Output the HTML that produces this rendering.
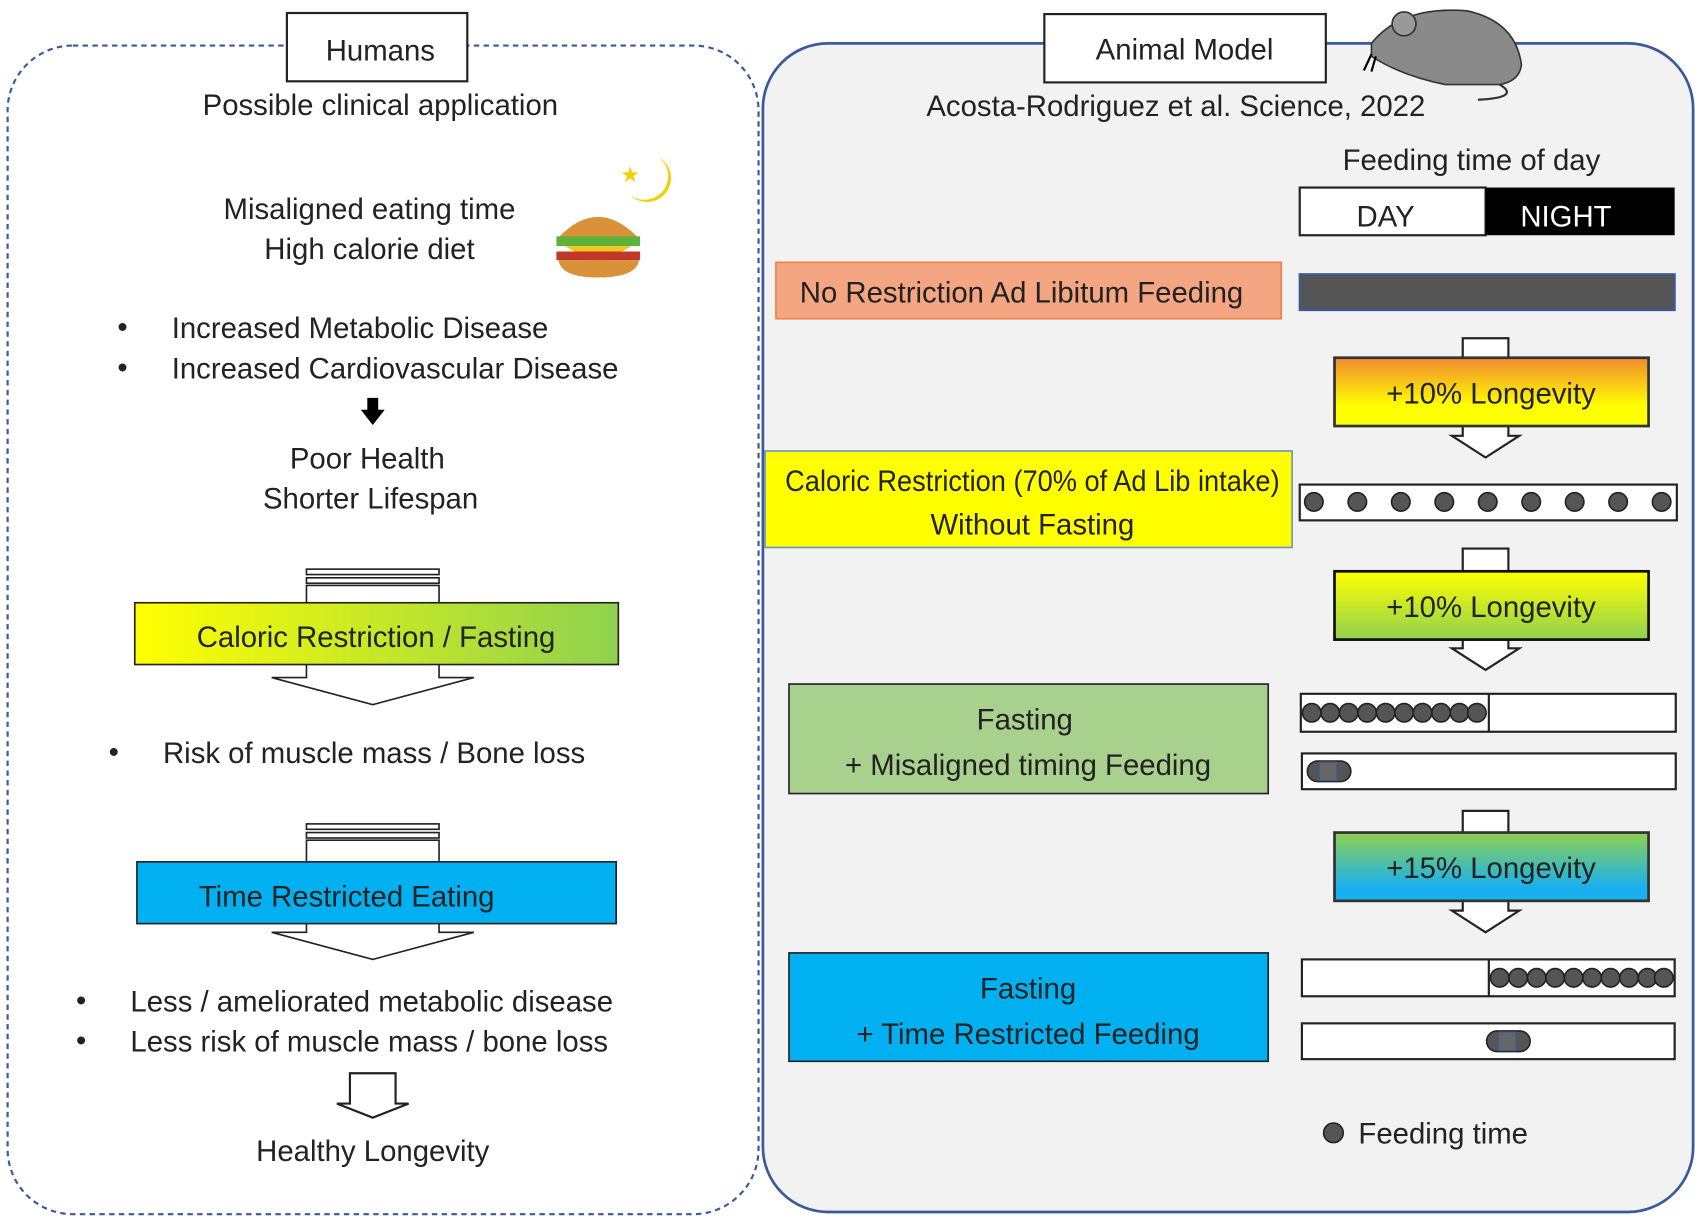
<!DOCTYPE html>
<html><head><meta charset="utf-8"><style>
html,body{margin:0;padding:0;background:#fff;}
svg{display:block;}
text{font-family:"Liberation Sans",sans-serif;font-size:27px;fill:#222;}
</style></head><body>
<svg width="1704" height="1225" viewBox="0 0 1568 1130" preserveAspectRatio="none" xmlns="http://www.w3.org/2000/svg">
<defs>
<linearGradient id="gcr" x1="0" x2="1"><stop offset="0" stop-color="#ffff00"/><stop offset="1" stop-color="#8fd14f"/></linearGradient>
<linearGradient id="g1" x1="0" y1="0" x2="0" y2="1"><stop offset="0" stop-color="#f08a30"/><stop offset="0.7" stop-color="#ffff00"/></linearGradient>
<linearGradient id="g2" x1="0" y1="0" x2="0" y2="1"><stop offset="0" stop-color="#ffff00"/><stop offset="1" stop-color="#8fd14f"/></linearGradient>
<linearGradient id="g3" x1="0" y1="0" x2="0" y2="1"><stop offset="0" stop-color="#8fd14f"/><stop offset="0.8" stop-color="#1ab0ee"/></linearGradient>
</defs>
<rect width="1568" height="1130" fill="#fff"/>
<rect x="7" y="42" width="691" height="1078" rx="60" fill="#fff" stroke="#3a5a9a" stroke-width="2" stroke-dasharray="5,4"/>
<rect x="264" y="12" width="166" height="63" fill="#fff" stroke="#222" stroke-width="2"/>
<text x="350" y="56" text-anchor="middle">Humans</text>
<text x="350" y="106" text-anchor="middle">Possible clinical application</text>
<text x="340" y="202" text-anchor="middle">Misaligned eating time</text>
<text x="340" y="239" text-anchor="middle">High calorie diet</text>
<path d="M513,220 Q550,180 588,220 Z" fill="#d9923a"/>
<rect x="512" y="218" width="77" height="9" fill="#5db33a"/>
<polygon points="520,227 581,227 550,245" fill="#f2c61c"/>
<rect x="512" y="232" width="77" height="8" fill="#c0392b"/>
<path d="M514,240 L588,240 Q586,256 550,256 Q516,256 514,240 Z" fill="#d9923a"/>
<path d="M606,145 A22,22 0 1 1 580,180 A18,18 0 0 0 606,145 Z" fill="#f5d000"/>
<text x="571" y="168" style="font-size:20px;fill:#f5d000">★</text>
<text x="108" y="311">•</text><text x="158" y="312">Increased Metabolic Disease</text>
<text x="108" y="348">•</text><text x="158" y="349">Increased Cardiovascular Disease</text>
<polygon points="338,367 348,367 348,378 354,378 343,392 332,378 338,378" fill="#000"/>
<text x="338" y="432" text-anchor="middle">Poor Health</text>
<text x="341" y="469" text-anchor="middle">Shorter Lifespan</text>
<g fill="#fff" stroke="#222" stroke-width="1.5">
<rect x="282" y="525" width="122" height="5"/><rect x="282" y="533" width="122" height="5"/>
<polygon points="282,540 404,540 404,625 436,625 343,650 250,625 282,625"/>
</g>
<rect x="124" y="556" width="445" height="57" fill="url(#gcr)" stroke="#222" stroke-width="1.5"/>
<text x="346" y="597" text-anchor="middle">Caloric Restriction / Fasting</text>
<text x="100" y="703">•</text><text x="150" y="704">Risk of muscle mass / Bone loss</text>
<g fill="#fff" stroke="#222" stroke-width="1.5">
<rect x="282" y="760" width="122" height="5"/><rect x="282" y="768" width="122" height="5"/>
<polygon points="282,775 404,775 404,860 436,860 343,885 250,860 282,860"/>
</g>
<rect x="126" y="795" width="441" height="57" fill="#00b0f0" stroke="#222" stroke-width="1.5"/>
<text x="319" y="836" text-anchor="middle">Time Restricted Eating</text>
<text x="70" y="932">•</text><text x="120" y="933">Less / ameliorated metabolic disease</text>
<text x="70" y="969">•</text><text x="120" y="970">Less risk of muscle mass / bone  loss</text>
<polygon points="322,990 364,990 364,1018 376,1018 343,1031 310,1018 322,1018" fill="#fff" stroke="#222" stroke-width="2"/>
<text x="343" y="1071" text-anchor="middle">Healthy Longevity</text>
<rect x="702" y="40" width="856" height="1078" rx="60" fill="#f2f2f2" stroke="#3a5a9a" stroke-width="2.5"/>
<rect x="961" y="13" width="259" height="63" fill="#fff" stroke="#222" stroke-width="2"/>
<text x="1090" y="55" text-anchor="middle">Animal Model</text>
<g>
<path d="M1262,40 Q1290,5 1350,10 Q1395,20 1400,60 Q1398,75 1380,78 L1330,78 Q1290,70 1262,52 Z" fill="#8a8a8a" stroke="#333" stroke-width="1.5"/>
<circle cx="1292" cy="22" r="11" fill="#999" stroke="#333" stroke-width="1.5"/>
<path d="M1380,78 Q1400,90 1360,92" fill="none" stroke="#333" stroke-width="2"/>
<path d="M1262,50 L1255,65 M1266,52 L1262,66" stroke="#000" stroke-width="2"/>
</g>
<text x="1082" y="107" text-anchor="middle">Acosta-Rodriguez et al. Science, 2022</text>
<text x="1354" y="157" text-anchor="middle">Feeding time of day</text>
<rect x="1196" y="173" width="171" height="44" fill="#fff" stroke="#222" stroke-width="2"/>
<rect x="1367" y="173" width="174" height="44" fill="#000"/>
<text x="1275" y="209" text-anchor="middle">DAY</text>
<text x="1441" y="209" text-anchor="middle" style="fill:#fff">NIGHT</text>
<rect x="714" y="242" width="465" height="52" fill="#f4a582" stroke="#f08040" stroke-width="1.5"/>
<text x="940" y="279" text-anchor="middle">No Restriction Ad Libitum Feeding</text>
<rect x="1196" y="253" width="345" height="33" fill="#555" stroke="#3a5a9a" stroke-width="2"/>
<g fill="#fff" stroke="#222" stroke-width="2">
<polygon points="1346,312 1388,312 1388,402 1398,402 1367,422 1336,402 1346,402"/>
<polygon points="1346,506 1388,506 1388,598 1398,598 1367,618 1336,598 1346,598"/>
<polygon points="1346,748 1388,748 1388,840 1398,840 1367,860 1336,840 1346,840"/>
</g>
<rect x="1228" y="330" width="289" height="63" fill="url(#g1)" stroke="#333" stroke-width="2.5"/>
<text x="1372" y="372" text-anchor="middle">+10% Longevity</text>
<rect x="704" y="416" width="485" height="89" fill="#ffff00" stroke="#7090c0" stroke-width="1.5"/>
<text x="950" y="453" text-anchor="middle" textLength="455" lengthAdjust="spacingAndGlyphs">Caloric Restriction (70% of Ad Lib intake)</text>
<text x="950" y="493" text-anchor="middle">Without Fasting</text>
<rect x="1196" y="447" width="347" height="33" fill="#fff" stroke="#222" stroke-width="2"/>
<g fill="#555" stroke="#222" stroke-width="1.5">
<circle cx="1209" cy="463" r="8.5"/><circle cx="1249" cy="463" r="8.5"/><circle cx="1289" cy="463" r="8.5"/><circle cx="1329" cy="463" r="8.5"/><circle cx="1369" cy="463" r="8.5"/><circle cx="1409" cy="463" r="8.5"/><circle cx="1449" cy="463" r="8.5"/><circle cx="1489" cy="463" r="8.5"/><circle cx="1529" cy="463" r="8.5"/>
</g>
<rect x="1228" y="527" width="289" height="63" fill="url(#g2)" stroke="#111" stroke-width="2.5"/>
<text x="1372" y="569" text-anchor="middle">+10% Longevity</text>
<rect x="726" y="631" width="441" height="101" fill="#a9d18e" stroke="#222" stroke-width="1.5"/>
<text x="943" y="673" text-anchor="middle">Fasting</text>
<text x="946" y="715" text-anchor="middle">+ Misaligned timing Feeding</text>
<rect x="1197" y="640" width="345" height="35" fill="#fff" stroke="#222" stroke-width="2"/>
<line x1="1370" y1="640" x2="1370" y2="675" stroke="#222" stroke-width="2"/>
<g fill="#555" stroke="#222" stroke-width="1.5">
<circle cx="1207" cy="657.5" r="8.5"/><circle cx="1224" cy="657.5" r="8.5"/><circle cx="1241" cy="657.5" r="8.5"/><circle cx="1258" cy="657.5" r="8.5"/><circle cx="1275" cy="657.5" r="8.5"/><circle cx="1292" cy="657.5" r="8.5"/><circle cx="1309" cy="657.5" r="8.5"/><circle cx="1326" cy="657.5" r="8.5"/><circle cx="1343" cy="657.5" r="8.5"/><circle cx="1359" cy="657.5" r="8.5"/>
</g>
<rect x="1198" y="695" width="344" height="33" fill="#fff" stroke="#222" stroke-width="2"/>
<rect x="1203" y="702" width="40" height="19" rx="9.5" fill="#555" stroke="#222" stroke-width="1.5"/>
<rect x="1214" y="703" width="16" height="17" fill="#666" stroke="#3a5a9a" stroke-width="1.2"/>
<rect x="1228" y="768" width="289" height="63" fill="url(#g3)" stroke="#333" stroke-width="2.5"/>
<text x="1372" y="810" text-anchor="middle">+15% Longevity</text>
<rect x="726" y="879" width="441" height="100" fill="#00b0f0" stroke="#222" stroke-width="1.5"/>
<text x="946" y="921" text-anchor="middle">Fasting</text>
<text x="946" y="963" text-anchor="middle">+ Time Restricted Feeding</text>
<rect x="1198" y="885" width="343" height="34" fill="#fff" stroke="#222" stroke-width="2"/>
<line x1="1370" y1="885" x2="1370" y2="919" stroke="#222" stroke-width="2"/>
<g fill="#555" stroke="#222" stroke-width="1.5">
<circle cx="1380" cy="902" r="8.5"/><circle cx="1397" cy="902" r="8.5"/><circle cx="1414" cy="902" r="8.5"/><circle cx="1431" cy="902" r="8.5"/><circle cx="1448" cy="902" r="8.5"/><circle cx="1465" cy="902" r="8.5"/><circle cx="1482" cy="902" r="8.5"/><circle cx="1499" cy="902" r="8.5"/><circle cx="1516" cy="902" r="8.5"/><circle cx="1531" cy="902" r="8.5"/>
</g>
<rect x="1198" y="944" width="343" height="33" fill="#fff" stroke="#222" stroke-width="2"/>
<rect x="1368" y="951" width="40" height="19" rx="9.5" fill="#555" stroke="#222" stroke-width="1.5"/>
<rect x="1379" y="952" width="16" height="17" fill="#666" stroke="#3a5a9a" stroke-width="1.2"/>
<circle cx="1227" cy="1045" r="9" fill="#555" stroke="#222" stroke-width="1.5"/>
<text x="1250" y="1055">Feeding time</text>
</svg>
</body></html>
